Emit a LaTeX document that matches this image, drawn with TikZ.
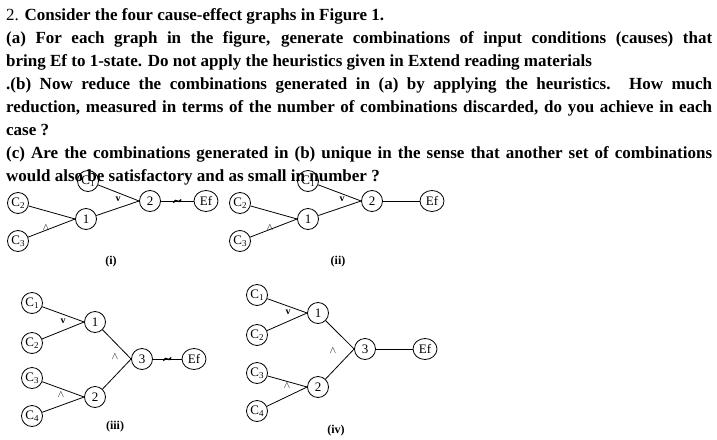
\documentclass[tikz,border=0pt]{standalone}
\usepackage{fontspec}
\setmainfont{Liberation Serif}
\usetikzlibrary{calc,shapes.geometric}
\begin{document}
\begin{tikzpicture}[x=1pt,y=-1pt,
  cn/.style={circle,draw,thick,minimum size=21pt,inner sep=0pt,font=\fontsize{13}{13}\selectfont},
  en/.style={ellipse,draw,thick,minimum width=24pt,minimum height=21pt,inner sep=0pt,font=\fontsize{13}{13}\selectfont},
  ln/.style={thick},
  lb/.style={font=\fontsize{10}{10}\selectfont\bfseries},
  captxt/.style={font=\fontsize{12}{12}\selectfont\bfseries},
  tl/.style={anchor=base west,inner sep=0pt,font=\fontsize{17}{17}\selectfont\bfseries}]
\useasboundingbox (0,0) rectangle (717,439);
\newcommand{\Cs}[1]{C\raisebox{-2.5pt}{\fontsize{9}{9}\selectfont #1}}
\newcommand{\wig}[1]{\draw[line width=1.4pt] ($(#1)+(-4,1.5)$) .. controls ($(#1)+(-1,-4)$) and ($(#1)+(1,4)$) .. ($(#1)+(4,-1.5)$);}
% text
\node[tl] (t1) at (6,20) {\mdseries 2. \bfseries Consider the four cause-effect graphs in Figure 1.};
\node[tl] (t2) at (6,43) {\makebox[706pt][s]{(a) For each graph in the figure, generate combinations of input conditions (causes) that}};
\node[tl] (t3) at (6,66) {bring Ef to 1-state. Do not apply the heuristics given in Extend reading materials};
\node[tl] (t4) at (6,89) {\makebox[706pt][s]{.(b) Now reduce the combinations generated in (a) by applying the heuristics. How much}};
\node[tl] (t5) at (6,112) {\makebox[706pt][s]{reduction, measured in terms of the number of combinations discarded, do you achieve in each}};
\node[tl] (t6) at (6,135) {case ?};
\node[tl] (t7) at (6,158) {\makebox[706pt][s]{(c) Are the combinations generated in (b) unique in the sense that another set of combinations}};
\node[tl] (t8) at (6,181) {would also be satisfactory and as small in number ?};
% (i)
\node[cn] (a1) at (88,181) {\Cs1};
\node[cn] (a2) at (18,203) {\Cs2};
\node[cn] (a3) at (18,241) {\Cs3};
\node[cn] (an1) at (86,219) {1};
\node[cn] (an2) at (150,201) {2};
\node[en] (aef) at (206,201) {Ef};
\draw[ln] (a2) -- (an1.west); \draw[ln] (a3) -- (an1.west);
\draw[ln] (a1) -- (an2.west); \draw[ln] (an1) -- (an2.west);
\draw[ln] (an2) -- (aef); \coordinate (am) at ($(an2.east)!0.5!(aef.west)$); \wig{am}
\node[lb] (av) at (118,199) {v}; \node[lb] (aa) at (46,228) {$\wedge$};
\node[captxt] (ai) at (111,262) {(i)};
% (ii)
\node[cn] (b1) at (308,181) {\Cs1};
\node[cn] (b2) at (240,203) {\Cs2};
\node[cn] (b3) at (240,241) {\Cs3};
\node[cn] (bn1) at (308,219) {1};
\node[cn] (bn2) at (372,201) {2};
\node[en] (bef) at (432,201) {Ef};
\draw[ln] (b2) -- (bn1.west); \draw[ln] (b3) -- (bn1.west);
\draw[ln] (b1) -- (bn2.west); \draw[ln] (bn1) -- (bn2.west);
\draw[ln] (bn2) -- (bef);
\node[lb] (bv) at (342,199) {v}; \node[lb] (ba) at (270,228) {$\wedge$};
\node[captxt] (bi) at (338,262) {(ii)};
% (iii)
\node[cn] (c1) at (32,303) {\Cs1};
\node[cn] (c2) at (32,343) {\Cs2};
\node[cn] (c3) at (32,378) {\Cs3};
\node[cn] (c4) at (32,416) {\Cs4};
\node[cn] (cn1) at (95,322) {1};
\node[cn] (cn2) at (95,397) {2};
\node[cn] (cn3) at (142,359) {3};
\node[en] (cef) at (194,359) {Ef};
\draw[ln] (c1) -- (cn1.west); \draw[ln] (c2) -- (cn1.west);
\draw[ln] (c3) -- (cn2.west); \draw[ln] (c4) -- (cn2.west);
\draw[ln] (cn1) -- (cn3.west); \draw[ln] (cn2) -- (cn3.west);
\draw[ln] (cn3) -- (cef); \coordinate (cm) at ($(cn3.east)!0.5!(cef.west)$); \wig{cm}
\node[lb] (cv) at (63,321) {v}; \node[lb] (ca) at (61,395) {$\wedge$}; \node[lb] (ca2) at (115,357) {$\wedge$};
\node[captxt] (ci) at (115,427) {(iii)};
% (iv)
\node[cn] (d1) at (257,295) {\Cs1};
\node[cn] (d2) at (257,335) {\Cs2};
\node[cn] (d3) at (257,373) {\Cs3};
\node[cn] (d4) at (257,411) {\Cs4};
\node[cn] (dn1) at (318,313) {1};
\node[cn] (dn2) at (318,387) {2};
\node[cn] (dn3) at (365,349) {3};
\node[en] (def) at (425,349) {Ef};
\draw[ln] (d1) -- (dn1.west); \draw[ln] (d2) -- (dn1.west);
\draw[ln] (d3) -- (dn2.west); \draw[ln] (d4) -- (dn2.west);
\draw[ln] (dn1) -- (dn3.west); \draw[ln] (dn2) -- (dn3.west);
\draw[ln] (dn3) -- (def);
\node[lb] (dv) at (288,312) {v}; \node[lb] (da) at (287,386) {$\wedge$}; \node[lb] (da2) at (333,351) {$\wedge$};
\node[captxt] (di) at (336,431) {(iv)};
\end{tikzpicture}
\end{document}
